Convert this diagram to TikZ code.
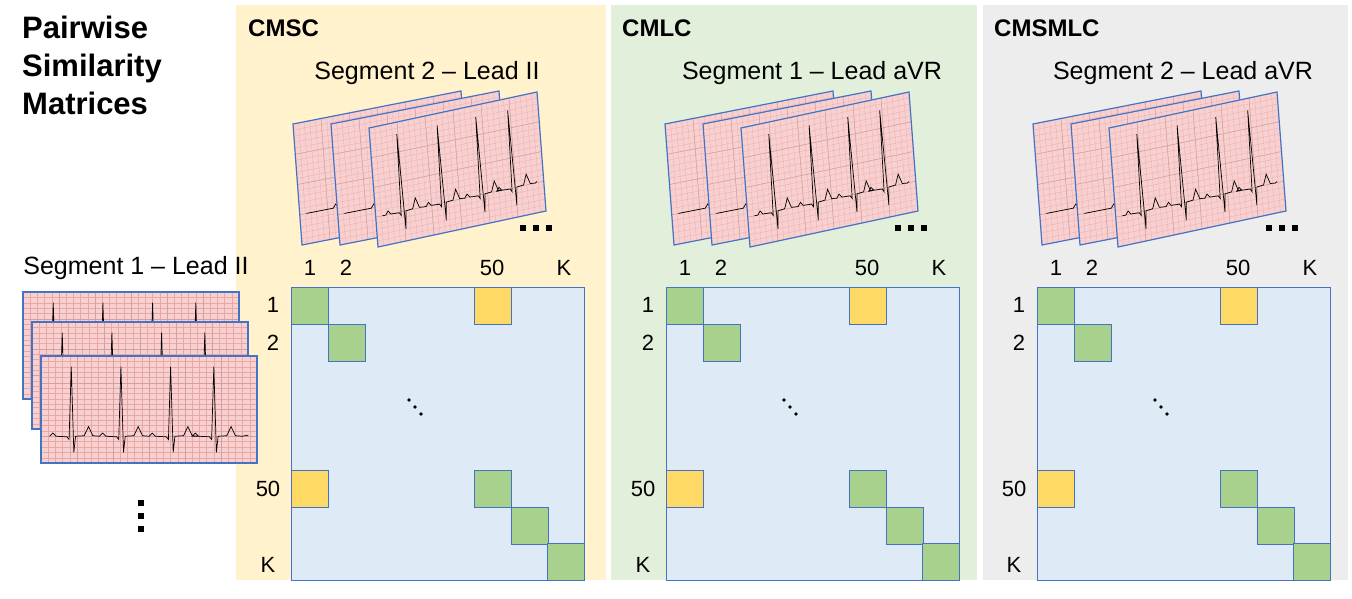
\documentclass[tikz,border=0pt]{standalone}
\usepackage{fontspec}
\setmainfont{Liberation Sans}
\definecolor{cmsc}{HTML}{FFF2CC}
\definecolor{cmlc}{HTML}{E2EFDA}
\definecolor{cmsm}{HTML}{EDEDED}
\definecolor{mat}{HTML}{DEEBF7}
\definecolor{grn}{HTML}{A9D18E}
\definecolor{yel}{HTML}{FFD966}
\definecolor{bl}{HTML}{4472C4}
\definecolor{pnk}{HTML}{F8D0D0}
\definecolor{pgl}{HTML}{E8A8A8}
\tikzset{
 cell/.style={draw=bl, line width=0.9pt},
 lbl/.style={font=\fontsize{22}{24}\selectfont, inner sep=0pt},
 seg/.style={font=\fontsize{25}{27}\selectfont, inner sep=0pt},
 ttl/.style={font=\bfseries\fontsize{24}{26}\selectfont, inner sep=0pt, anchor=west},
}
\newcommand\ecgtrace[1]{%
 \draw[line width=0.7pt, black] (0.04,0.75)
 \foreach \b in {#1}{ -- ({\b-0.1},0.75) -- ({\b-0.085},0.72) -- ({\b-0.07},0.75) -- ({\b-0.02},0.755) -- ({\b-0.01},0.78) -- (\b,0.1) -- ({\b+0.012},0.9) -- ({\b+0.02},0.75) -- ({\b+0.06},0.745) -- ({\b+0.08},0.66) -- ({\b+0.1},0.745) -- ({\b+0.13},0.75) } -- (0.96,0.74);}
\newcommand\ecggrid{%
 \fill[pnk] (0,0) -- (1,0) -- (1,1) -- (0,1) -- cycle;
 \foreach \i in {1,...,29}{\draw[pgl, line width=0.25pt] ({\i/30},0) -- ({\i/30},1);}
 \foreach \i in {1,...,19}{\draw[pgl, line width=0.25pt] (0,{\i/20}) -- (1,{\i/20});}
 \foreach \i in {1,...,5}{\draw[pgl!80!gray, line width=0.5pt] ({\i/6},0) -- ({\i/6},1);}
 \foreach \i in {1,...,3}{\draw[pgl!80!gray, line width=0.5pt] (0,{\i/4}) -- (1,{\i/4});}
}
% #1,#2 top-left (px, y down) ; #3,#4 u ; #5,#6 v (px, y down) ; #7 beats
\newcommand\ecgcard[7]{%
 \begin{scope}[shift={(#1,#2)}]\begin{scope}[x={(#3pt,-#4pt)}, y={(#5pt,-#6pt)}]
 \ecggrid \ecgtrace{#7}
 \draw[bl, line width=1.2pt] (0,0) -- (1,0) -- (1,1) -- (0,1) -- cycle;
 \end{scope}\end{scope}}
\newcommand\skewstack[1]{%
 \begin{scope}[shift={(#1,0)}]
 \ecgcard{293}{124}{168}{-33}{9}{121}{0.3,0.75}
 \ecgcard{331}{124}{168}{-33}{9}{121}{0.3,0.75}
 \ecgcard{369}{128}{168}{-36}{9}{119}{0.16,0.4,0.63,0.82}
 \end{scope}}
\newcommand\matrixblock[2]{%
 \begin{scope}[shift={(#1,0)}]
 \node[draw=bl, fill=mat, line width=0.9pt, minimum width=293pt, minimum height=293pt, inner sep=0pt, anchor=north west] (m#2) at (291,287) {};
 \draw[cell, fill=grn] (291,287) rectangle ++(37,37);
 \draw[cell, fill=grn] (328,324) rectangle ++(37,37);
 \draw[cell, fill=yel] (474,287) rectangle ++(37,37);
 \draw[cell, fill=yel] (291,470) rectangle ++(37,37);
 \draw[cell, fill=grn] (474,470) rectangle ++(37,37);
 \draw[cell, fill=grn] (511,507) rectangle ++(37,37);
 \draw[cell, fill=grn] (547,543) rectangle ++(37,37);
 \node[lbl] (c1#2) at (310,268) {1};
 \node[lbl] (c2#2) at (346,268) {2};
 \node[lbl] (c50#2) at (492,268) {50};
 \node[lbl] (cK#2) at (564,268) {K};
 \node[lbl] (r1#2) at (273,305) {1};
 \node[lbl] (r2#2) at (273,343) {2};
 \node[lbl] (r50#2) at (268,489) {50};
 \node[lbl] (rK#2) at (268,565) {K};
 \foreach \k in {0,1,2}{\fill[black] ({409+6*\k},{400+7*\k}) circle (1.8pt);}
 \foreach \k in {0,1,2}{\fill[black] ({523+13*\k-3},{228-3}) rectangle ++(6,6);}
 \end{scope}}
\begin{document}
\begin{tikzpicture}[x=1pt,y=-1pt]
\useasboundingbox (0,0) rectangle (1352,599);
\fill[white] (0,0) rectangle (1352,599);
\fill[cmsc] (236,5) rectangle (606,580);
\fill[cmlc] (611,5) rectangle (977,580);
\fill[cmsm] (983,5) rectangle (1348,580);
\node[ttl] (t1) at (248,28) {CMSC};
\node[ttl] (t2) at (622,28) {CMLC};
\node[ttl] (t3) at (994,28) {CMSMLC};
\node[font=\bfseries\fontsize{31}{38}\selectfont, align=left, anchor=north west, inner sep=0pt] (title) at (22,16) {Pairwise\\Similarity\\Matrices};
\node[seg] (s1) at (427,73) {Segment 2 – Lead II};
\node[seg] (s2) at (812,73) {Segment 1 – Lead aVR};
\node[seg] (s3) at (1183,73) {Segment 2 – Lead aVR};
\node[seg] (s0) at (136,268) {Segment 1 – Lead II};
\skewstack{0}
\skewstack{372}
\skewstack{740}
\matrixblock{0}{a}
\matrixblock{375}{b}
\matrixblock{746}{c}
% left stack
\ecgcard{23}{292}{216}{0}{0}{107}{0.14,0.37,0.6,0.8}
\ecgcard{32}{322}{216}{0}{0}{107}{0.14,0.37,0.6,0.8}
\ecgcard{41}{356}{216}{0}{0}{107}{0.14,0.37,0.6,0.8}
\foreach \yy in {503,516,529}{\fill[black] (138,\yy-3) rectangle (144,\yy+3);}
\end{tikzpicture}
\end{document}
